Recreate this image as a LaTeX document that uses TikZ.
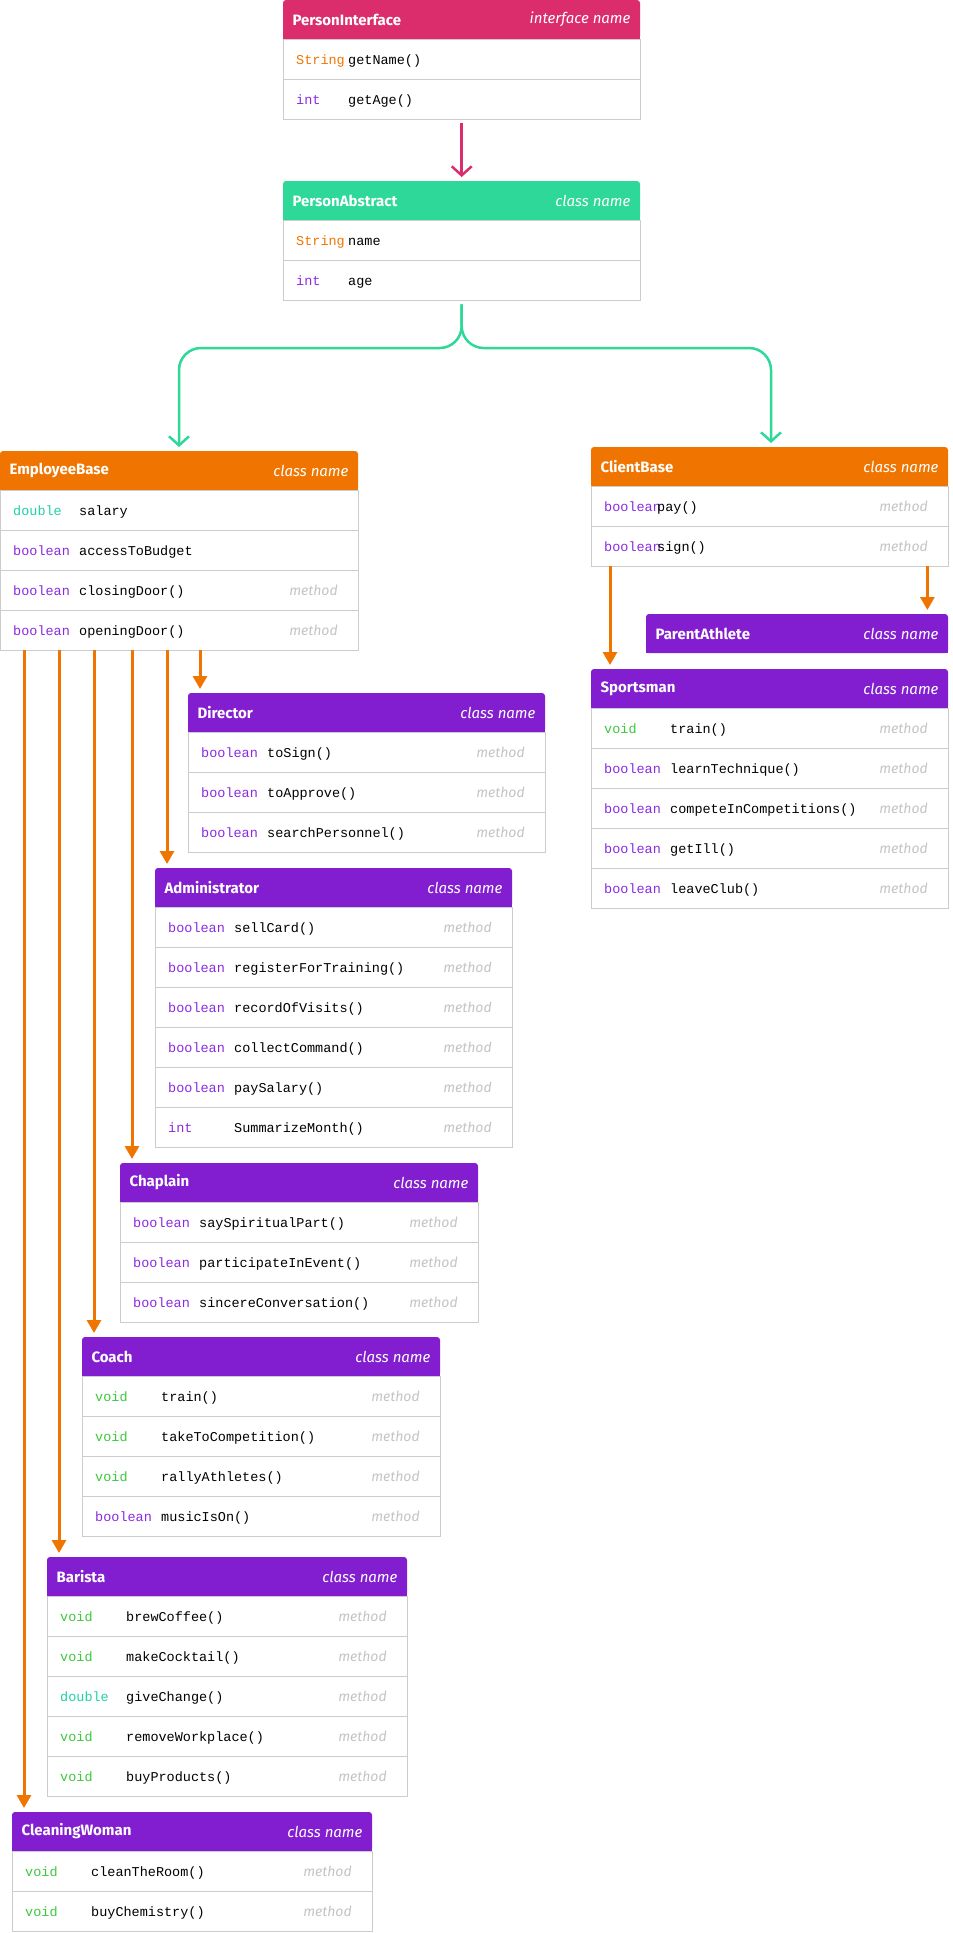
\documentclass[tikz,border=0pt]{standalone}
\usepackage{fontspec}
\setmainfont{Fira Sans}
\newfontfamily\codefont{Liberation Mono}
\usetikzlibrary{arrows.meta,calc}
\definecolor{pinkhead}{HTML}{DB2D6B}
\definecolor{tealhead}{HTML}{2ED899}
\definecolor{orangehead}{HTML}{F07500}
\definecolor{purplehead}{HTML}{821ECF}
\definecolor{tyS}{HTML}{F07500}
\definecolor{tyI}{HTML}{8A2BE2}
\definecolor{tyD}{HTML}{1FD1A8}
\definecolor{tyV}{HTML}{3DC83D}
\definecolor{rowline}{HTML}{CCCCCC}
\definecolor{methodgray}{HTML}{C4C4C4}
\tikzset{
  title/.style={anchor=west, text=white, font=\fontsize{15}{18}\selectfont\bfseries},
  tag/.style={anchor=east, text=white, font=\fontsize{15}{18}\selectfont\itshape},
  code/.style={anchor=base west, inner sep=0, font=\codefont\fontsize{13.5}{16}\selectfont},
  cmt/.style={anchor=base east, inner sep=0, text=methodgray, font=\fontsize{14}{16}\selectfont\itshape},
  oarr/.style={orangehead, line width=3pt, -{Triangle[width=14pt,length=13pt]}, shorten >=4pt},
  varr/.style={line width=2.5pt, -{Straight Barb[width=20pt,length=9pt]}, shorten >=4pt, shorten <=4pt},
}
% box: name, (x,y), width, rows, colour, title, tag, name offset, rows
\newcommand\umlclass[9]{
  \begin{scope}[shift={#2}]
    \node[inner sep=0, minimum width=#3, minimum height={39+40*#4}, anchor=north west] (#1) at (0,0) {};
    \fill[#5, rounded corners=3] (0,39) -- (0,0) -- (#3,0) -- (#3,39) -- cycle;
    \fill[#5] (0,20) rectangle (#3,39);
    \node[title] at (6,19.5) {#6};
    \node[tag] at (#3-6,19.5) {#7};
    \ifnum#4>0
    \foreach \ty/\tc/\nm/\cm [count=\i] in {#9}{
      \draw[rowline, line width=1pt] (0,39+40*\i-40) rectangle (#3,39+40*\i);
      \node[code, text=\tc] at (13,39+40*\i-15) {\ty};
      \node[code] at (#8,39+40*\i-15) {\nm};
      \node[cmt] at (#3-20,39+40*\i-15) {\cm};
    }
    \fi
  \end{scope}
}
\begin{document}
\begin{tikzpicture}[x=1pt, y=-1pt]
  \useasboundingbox (0,0) rectangle (953,1933);
  \umlclass{pi}{(283,0)}{357}{2}{pinkhead}{PersonInterface}{interface name}{65}
    {String/tyS/getName()/, int/tyI/getAge()/}
  \umlclass{pa}{(283,181)}{357}{2}{tealhead}{PersonAbstract}{class name}{65}
    {String/tyS/name/, int/tyI/age/}
  \umlclass{cb}{(591,447)}{357}{2}{orangehead}{ClientBase}{class name}{66}
    {boolean/tyI/pay()/method, boolean/tyI/sign()/method}
  \umlclass{par}{(646,614)}{302}{0}{purplehead}{ParentAthlete}{class name}{79}{}
  \umlclass{sp}{(591,669)}{357}{5}{purplehead}{Sportsman}{class name}{79}
    {void/tyV/train()/method, boolean/tyI/learnTechnique()/method,
     boolean/tyI/competeInCompetitions()/method, boolean/tyI/getIll()/method,
     boolean/tyI/leaveClub()/method}
  \umlclass{dir}{(188,693)}{357}{3}{purplehead}{Director}{class name}{79}
    {boolean/tyI/toSign()/method, boolean/tyI/toApprove()/method,
     boolean/tyI/searchPersonnel()/method}
  \umlclass{adm}{(155,868)}{357}{6}{purplehead}{Administrator}{class name}{79}
    {boolean/tyI/sellCard()/method, boolean/tyI/registerForTraining()/method,
     boolean/tyI/recordOfVisits()/method, boolean/tyI/collectCommand()/method,
     boolean/tyI/paySalary()/method, int/tyI/SummarizeMonth()/method}
  \umlclass{chp}{(120,1163)}{358}{3}{purplehead}{Chaplain}{class name}{79}
    {boolean/tyI/saySpiritualPart()/method, boolean/tyI/participateInEvent()/method,
     boolean/tyI/sincereConversation()/method}
  \umlclass{coa}{(82,1337)}{358}{4}{purplehead}{Coach}{class name}{79}
    {void/tyV/train()/method, void/tyV/takeToCompetition()/method,
     void/tyV/rallyAthletes()/method, boolean/tyI/musicIsOn()/method}
  \umlclass{bar}{(47,1557)}{360}{5}{purplehead}{Barista}{class name}{79}
    {void/tyV/brewCoffee()/method, void/tyV/makeCocktail()/method,
     double/tyD/giveChange()/method, void/tyV/removeWorkplace()/method,
     void/tyV/buyProducts()/method}
  \umlclass{clw}{(12,1812)}{360}{2}{purplehead}{CleaningWoman}{class name}{79}
    {void/tyV/cleanTheRoom()/method, void/tyV/buyChemistry()/method}
  \umlclass{emp}{(0,451)}{358}{4}{orangehead}{EmployeeBase}{class name}{79}
    {double/tyD/salary/, boolean/tyI/accessToBudget/,
     boolean/tyI/closingDoor()/method, boolean/tyI/openingDoor()/method}

  % inheritance
  \draw[varr, pinkhead] (pi.south) -- (pa.north);
  \coordinate (fk) at (0,348);
  \coordinate (el) at (179,0);
  \coordinate (cr) at (771,0);
  \draw[varr, tealhead, rounded corners=22] (pa.south) |- (el |- fk) -- (el |- emp.north);
  \draw[varr, tealhead, rounded corners=22] (pa.south) |- (cr |- fk) -- (cr |- cb.north);

  % employees
  \foreach \t in {dir, adm, chp, coa, bar, clw}{
    \coordinate (\t-in) at ($(\t.north west)+(12,0)$);
    \draw[oarr] (emp.south -| \t-in) -- (\t-in);
  }
  % clients
  \coordinate (sp-in) at ($(sp.north west)+(19,0)$);
  \draw[oarr] (cb.south -| sp-in) -- (sp-in);
  \coordinate (par-in) at ($(par.north east)+(-21,0)$);
  \draw[oarr] (cb.south -| par-in) -- (par-in);
\end{tikzpicture}
\end{document}
